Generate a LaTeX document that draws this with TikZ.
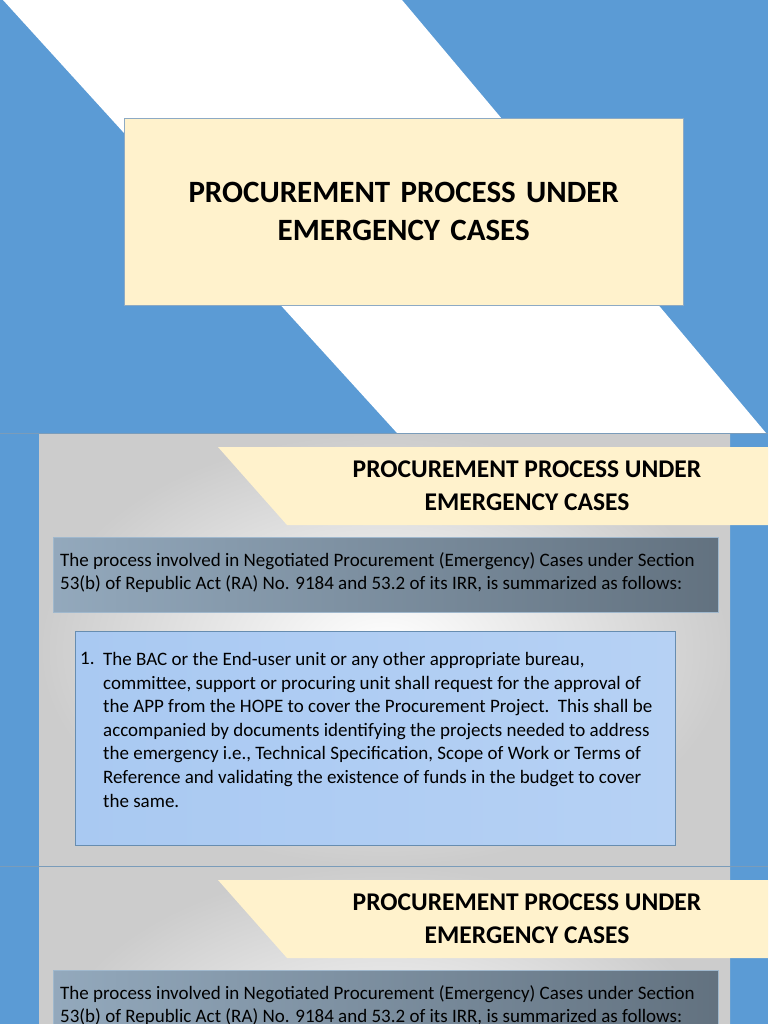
\documentclass[tikz,border=0pt]{standalone}
\usepackage{fontspec}
\setmainfont{Carlito}
\begin{document}
\begin{tikzpicture}[x=1pt,y=-1pt,
  bodytext/.style={font=\fontsize{19}{23.6}\selectfont, align=left, anchor=north west, inner sep=0pt},
  bannertext/.style={font=\fontsize{25.5}{33}\selectfont\bfseries, align=center}]
\definecolor{bgblue}{HTML}{5B9BD5}
\definecolor{cream}{HTML}{FFF2CC}
\definecolor{edge}{HTML}{41719C}
\definecolor{stepblue}{HTML}{A9C9F2}
\useasboundingbox (0,0) rectangle (768,1024);
\clip (0,0) rectangle (768,1024);
% slide 1
\fill[bgblue] (0,0) rectangle (768,433);
\fill[white] (3,0) -- (402,0) -- (766,433) -- (397,433) -- cycle;
\node[draw=edge!60, fill=cream, minimum width=559, minimum height=187, anchor=north west,
  font=\fontsize{31}{38}\selectfont\bfseries, align=center, text width=540]
  (title) at (124,118) {PROCUREMENT PROCESS UNDER\\EMERGENCY CASES};
% slides 2 and 3
\foreach \dy/\nm in {433/a,866/b}{
 \begin{scope}[yshift=-\dy]
  \fill[bgblue] (0,0) rectangle (768,433);
  \shade[outer color=black!20, inner color=white] (39,0) rectangle (730,433);
  \draw[edge!70, line width=1] (0,0) -- (768,0);
  \fill[cream] (218,14) -- (768,14) -- (768,92) -- (287,92) -- cycle;
  \node[bannertext] (ban\nm) at (527,53) {PROCUREMENT PROCESS UNDER\\EMERGENCY CASES};
  \node[draw=edge!50, left color=bgblue!45!gray!75, right color=black!40!bgblue!40!gray,
    minimum width=665, minimum height=75, anchor=north west] (intro\nm) at (53,104) {};
  \node[bodytext] at (60,119) {The process involved in Negotiated Procurement (Emergency) Cases under Section\\53(b) of Republic Act (RA) No. 9184 and 53.2 of its IRR, is summarized as follows:};
  \node[draw=edge!80, left color=stepblue, right color=stepblue!85!white, minimum width=600, minimum height=214,
    anchor=north west] (step\nm) at (75,198) {};
  \node[bodytext] at (80,219) {1.};
  \node[bodytext] at (103,219) {The BAC or the End-user unit or any other appropriate bureau,\\committee, support or procuring unit shall request for the approval of\\the APP from the HOPE to cover the Procurement Project.\ \ This shall be\\accompanied by documents identifying the projects needed to address\\the emergency i.e., Technical Specification, Scope of Work or Terms of\\Reference and validating the existence of funds in the budget to cover\\the same.};
 \end{scope}}
\end{tikzpicture}
\end{document}
